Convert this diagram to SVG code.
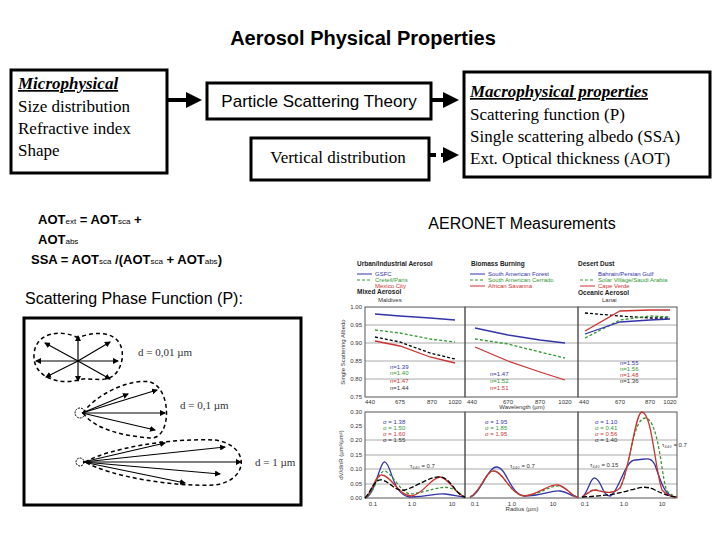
<svg xmlns="http://www.w3.org/2000/svg" width="720" height="540" viewBox="0 0 720 540">
<defs>
<marker id="ah" markerWidth="4" markerHeight="4" refX="3" refY="2" orient="auto"><path d="M0,0 L4,2 L0,4 z" fill="#000"/></marker>
<marker id="sa" markerWidth="6" markerHeight="6" refX="5" refY="3" orient="auto" markerUnits="userSpaceOnUse"><path d="M0,0 L6,3 L0,6 z" fill="#000"/></marker>
<style>
.box{fill:#fff;stroke:#000;stroke-width:3}
.tm{font-family:"Liberation Serif",serif;font-size:17px}
.ar{font-family:"Liberation Sans",Arial,sans-serif}
.f{font-family:"Liberation Sans",Arial,sans-serif;font-size:13px;font-weight:bold}
.lobe{fill:none;stroke:#000;stroke-width:1.5;stroke-dasharray:4 3}
.ray{stroke:#000;stroke-width:1.2;marker-end:url(#sa)}
.dl{font-family:"Liberation Serif",serif;font-size:11px;fill:#333}
.g{stroke:#aaa;stroke-width:1}
.ax{fill:none;stroke:#555;stroke-width:1}
.t{font-family:"Liberation Sans",Arial,sans-serif;font-size:6px;fill:#333}
.h{font-family:"Liberation Sans",Arial,sans-serif;font-size:6.5px;font-weight:bold;fill:#222}
.c{fill:none;stroke-width:1.3}
</style>
</defs>
<rect width="720" height="540" fill="#fff"/>
<text x="363" y="45" text-anchor="middle" class="ar" font-size="20" font-weight="bold">Aerosol Physical Properties</text>

<g id="connectors" stroke="#000" stroke-width="4" fill="none">
<line x1="168" y1="100" x2="198" y2="100" marker-end="url(#ah)"/>
<line x1="431" y1="100" x2="455" y2="100" marker-end="url(#ah)"/>
<line x1="430" y1="155" x2="455" y2="155" stroke-dasharray="6 5" marker-end="url(#ah)"/>
</g>

<g id="micro">
<rect class="box" x="11" y="70" width="156" height="103"/>
<text class="tm" x="18" y="89" font-weight="bold" font-style="italic" text-decoration="underline">Microphysical</text>
<text class="tm" x="18" y="112">Size distribution</text>
<text class="tm" x="18" y="134">Refractive index</text>
<text class="tm" x="18" y="156">Shape</text>
</g>
<g id="pst">
<rect class="box" x="207" y="83" width="224" height="36"/>
<text class="ar" x="319" y="107" font-size="17" text-anchor="middle">Particle Scattering Theory</text>
</g>
<g id="vert">
<rect class="box" x="251" y="138" width="178" height="42"/>
<text class="tm" x="338" y="163" text-anchor="middle">Vertical distribution</text>
</g>
<g id="macro">
<rect class="box" x="464" y="72" width="246" height="105"/>
<text class="tm" x="470" y="97" font-weight="bold" font-style="italic" text-decoration="underline">Macrophysical  properties</text>
<text class="tm" x="470" y="120">Scattering function (P)</text>
<text class="tm" x="470" y="142">Single scattering albedo (SSA)</text>
<text class="tm" x="470" y="164">Ext. Optical thickness (AOT)</text>
</g>

<g id="formulas">
<text class="f" x="38" y="224">AOT<tspan font-size="8" font-weight="normal">ext</tspan> = AOT<tspan font-size="8" font-weight="normal">sca</tspan> +</text>
<text class="f" x="38" y="244">AOT<tspan font-size="8" font-weight="normal">abs</tspan></text>
<text class="f" x="31" y="264">SSA = AOT<tspan font-size="8" font-weight="normal">sca</tspan> /(AOT<tspan font-size="8" font-weight="normal">sca</tspan> + AOT<tspan font-size="8" font-weight="normal">abs</tspan>)</text>
<text class="ar" x="25" y="304" font-size="16">Scattering Phase Function (P):</text>
</g>

<g id="phase">
<rect x="24" y="318" width="277" height="187" fill="#fff" stroke="#000" stroke-width="3"/>
<path class="lobe" d="M78,338 C65,330 35,330 34,355 C33,378 60,385 78,380 C92,375 115,390 122,360 C126,330 95,330 78,338 Z"/>
<g>
<line class="ray" x1="78" y1="361" x2="36" y2="361"/><line class="ray" x1="78" y1="361" x2="118" y2="361"/>
<line class="ray" x1="78" y1="361" x2="78" y2="336"/><line class="ray" x1="78" y1="361" x2="78" y2="381"/>
<line class="ray" x1="78" y1="361" x2="45" y2="343"/><line class="ray" x1="78" y1="361" x2="110" y2="342"/>
<line class="ray" x1="78" y1="361" x2="46" y2="377"/><line class="ray" x1="78" y1="361" x2="110" y2="379"/>
</g>
<text class="dl" x="138" y="356">d = 0,01 µm</text>
<path class="lobe" d="M83,413 C95,395 130,378 150,382 C172,388 172,440 150,438 C125,436 95,430 83,413 Z"/>
<circle cx="80" cy="413" r="5" fill="none" stroke="#000" stroke-dasharray="2 1"/>
<g>
<line class="ray" x1="82" y1="413" x2="165" y2="413"/><line class="ray" x1="82" y1="413" x2="157" y2="390"/>
<line class="ray" x1="82" y1="413" x2="155" y2="430"/><line class="ray" x1="82" y1="413" x2="128" y2="394"/>
</g>
<text class="dl" x="180" y="409">d = 0,1 µm</text>
<path class="lobe" d="M85,462 C110,448 170,438 215,440 C250,445 250,480 215,485 C170,487 110,476 85,462 Z"/>
<circle cx="80" cy="462" r="4" fill="none" stroke="#000" stroke-dasharray="2 1"/>
<g>
<line class="ray" x1="83" y1="462" x2="241" y2="462"/><line class="ray" x1="83" y1="462" x2="225" y2="447"/>
<line class="ray" x1="83" y1="462" x2="220" y2="474"/><line class="ray" x1="83" y1="462" x2="185" y2="483"/>
<line class="ray" x1="83" y1="462" x2="165" y2="443"/>
</g>
<text class="dl" x="255" y="466">d = 1 µm</text>
</g>

<text class="ar" x="522" y="229" font-size="16" text-anchor="middle">AERONET Measurements</text>

<g id="aeronet">
<text class="h" x="357" y="266">Urban/Industrial Aerosol</text>
<text class="h" x="471" y="266">Biomass Burning</text>
<text class="h" x="578" y="266">Desert Dust</text>
<text class="h" x="357" y="294">Mixed Aerosol</text>
<text class="h" x="578" y="295">Oceanic Aerosol</text>
<g class="t">
<text x="375" y="276" fill="#33a">GSFC</text><text x="375" y="282" fill="#393">Creteil/Paris</text><text x="375" y="288" fill="#c33">Mexico City</text><text x="378" y="302">Maldives</text>
<text x="488" y="276" fill="#33a">South American Forest</text><text x="488" y="282" fill="#393">South American Cerrado</text><text x="488" y="288" fill="#c33">African Savanna</text>
<text x="598" y="276" fill="#33a">Bahrain/Persian Gulf</text><text x="598" y="282" fill="#393">Solar Village/Saudi Arabia</text><text x="598" y="288" fill="#c33">Cape Verde</text><text x="602" y="302">Lanai</text>
</g>
<g stroke-width="1">
<line x1="357" y1="274" x2="372" y2="274" stroke="#33a"/><line x1="357" y1="280" x2="372" y2="280" stroke="#393" stroke-dasharray="3 2"/>
<line x1="470" y1="274" x2="485" y2="274" stroke="#33a"/><line x1="470" y1="280" x2="485" y2="280" stroke="#393" stroke-dasharray="3 2"/><line x1="470" y1="286" x2="485" y2="286" stroke="#c33"/>
<line x1="580" y1="280" x2="595" y2="280" stroke="#393" stroke-dasharray="3 2"/><line x1="580" y1="286" x2="595" y2="286" stroke="#c33"/>
</g>
<!-- top SSA plots -->
<g>
<line class="g" x1="365" y1="325" x2="677" y2="325"/><line class="g" x1="365" y1="343" x2="677" y2="343"/>
<line class="g" x1="365" y1="361" x2="677" y2="361"/><line class="g" x1="365" y1="379" x2="677" y2="379"/>
<rect class="ax" x="365" y="307" width="100" height="90"/><rect class="ax" x="465" y="307" width="113" height="90"/><rect class="ax" x="578" y="307" width="99" height="90"/>
</g>
<g class="t" text-anchor="end">
<text x="362" y="309">1.00</text><text x="362" y="327">0.95</text><text x="362" y="345">0.90</text><text x="362" y="363">0.85</text><text x="362" y="381">0.80</text><text x="362" y="399">0.75</text>
</g>
<text class="t" transform="translate(345,352) rotate(-90)" text-anchor="middle">Single Scattering Albedo</text>
<g class="t" text-anchor="middle">
<text x="370" y="404">440</text><text x="400" y="404">675</text><text x="432" y="404">870</text><text x="455" y="404">1020</text>
<text x="472" y="404">440</text><text x="508" y="404">670</text><text x="540" y="404">870</text><text x="565" y="404">1020</text>
<text x="584" y="404">440</text><text x="620" y="404">670</text><text x="650" y="404">870</text><text x="670" y="404">1020</text>
<text x="522" y="409">Wavelength (µm)</text>
</g>
<polyline class="c" stroke="#33a" points="375,314 400,316 430,318 455,320"/>
<polyline class="c" stroke="#393" stroke-dasharray="3 2" points="375,330 400,333 430,339 455,342"/>
<polyline class="c" stroke="#000" stroke-dasharray="3 2" points="375,337 400,342 430,353 455,359"/>
<polyline class="c" stroke="#c33" points="375,341 400,346 430,357 455,363"/>
<polyline class="c" stroke="#33a" points="475,328 508,335 540,340 565,343"/>
<polyline class="c" stroke="#393" stroke-dasharray="3 2" points="475,339 508,344 540,352 565,358"/>
<polyline class="c" stroke="#c33" points="475,347 508,361 540,372 565,380"/>
<polyline class="c" stroke="#000" stroke-dasharray="3 2" points="585,313 620,316 650,318 670,318"/>
<polyline class="c" stroke="#c33" points="585,331 620,311 650,310 670,310"/>
<polyline class="c" stroke="#393" stroke-dasharray="3 2" points="585,338 620,320 650,316 670,317"/>
<polyline class="c" stroke="#33a" points="585,334 620,322 650,320 670,319"/>
<g class="t"><text x="390" y="369" fill="#33a">n=1.39</text><text x="390" y="375" fill="#393">n=1.40</text><text x="390" y="383" fill="#c33">n=1.47</text><text x="390" y="390">n=1.44</text>
<text x="490" y="376" fill="#33a">n=1.47</text><text x="490" y="383" fill="#393">n=1.52</text><text x="490" y="390" fill="#c33">n=1.51</text>
<text x="620" y="365" fill="#33a">n=1.55</text><text x="620" y="371" fill="#393">n=1.56</text><text x="620" y="377" fill="#c33">n=1.48</text><text x="620" y="383">n=1.36</text></g>
<!-- bottom size distribution plots -->
<g>
<line class="g" x1="365" y1="440" x2="677" y2="440"/><line class="g" x1="365" y1="455" x2="677" y2="455"/>
<line class="g" x1="365" y1="469" x2="677" y2="469"/><line class="g" x1="365" y1="484" x2="677" y2="484"/>
<rect class="ax" x="365" y="412" width="100" height="86"/><rect class="ax" x="465" y="412" width="113" height="86"/><rect class="ax" x="578" y="412" width="99" height="86"/>
</g>
<g class="t" text-anchor="end">
<text x="362" y="414">0.30</text><text x="362" y="428">0.25</text><text x="362" y="442">0.20</text><text x="362" y="457">0.15</text><text x="362" y="471">0.10</text><text x="362" y="486">0.05</text><text x="362" y="500">0.00</text>
</g>
<text class="t" transform="translate(343,455) rotate(-90)" text-anchor="middle">dV/dlnR (µm³/µm²)</text>
<g class="t" text-anchor="middle">
<text x="373" y="506">0.1</text><text x="412" y="506">1.0</text><text x="452" y="506">10</text>
<text x="475" y="506">0.1</text><text x="512" y="506">1.0</text><text x="553" y="506">10</text>
<text x="585" y="506">0.1</text><text x="624" y="506">1.0</text><text x="662" y="506">10</text>
<text x="522" y="511">Radius (µm)</text>
</g>
<g class="t"><text x="383" y="424" fill="#33a">σ = 1.38</text><text x="383" y="430" fill="#393">σ = 1.50</text><text x="383" y="436" fill="#c33">σ = 1.60</text><text x="383" y="442">σ = 1.55</text>
<text x="485" y="424" fill="#33a">σ = 1.95</text><text x="485" y="430" fill="#393">σ = 1.85</text><text x="485" y="436" fill="#c33">σ = 1.95</text>
<text x="595" y="424" fill="#33a">σ = 1.10</text><text x="595" y="430" fill="#393">σ = 0.41</text><text x="595" y="436" fill="#c33">σ = 0.56</text><text x="595" y="442">σ = 1.40</text>
<text x="410" y="468">τ₄₄₀ = 0.7</text><text x="510" y="468">τ₄₄₀ = 0.7</text><text x="590" y="467">τ₄₄₀ = 0.15</text><text x="662" y="447">τ₄₄₀ = 0.7</text></g>
<path class="c" stroke="#33a" d="M365,498 C375,496 380,460 385,462 C392,465 392,495 410,497 C430,497 435,493 445,494 C455,495 460,497 465,497"/>
<path class="c" stroke="#393" stroke-dasharray="3 2" d="M365,498 C375,494 378,470 385,471 C392,473 400,492 410,494 C430,492 440,485 450,488 C458,490 462,496 465,497"/>
<path class="c" stroke="#c33" d="M365,498 C372,494 375,474 382,475 C392,476 398,496 412,496 C425,493 430,478 440,477 C450,478 455,495 465,497"/>
<path class="c" stroke="#000" stroke-dasharray="5 2" d="M365,498 C372,490 375,478 382,480 C392,483 395,492 405,490 C420,485 430,476 440,477 C452,478 455,495 465,497"/>
<path class="c" stroke="#33a" d="M470,497 C480,495 488,466 497,467 C507,468 510,495 525,496 C545,496 550,490 560,491 C568,492 572,497 578,497"/>
<path class="c" stroke="#393" stroke-dasharray="3 2" d="M470,497 C480,493 486,470 494,471 C504,472 510,495 525,496 C542,494 550,485 560,486 C568,488 572,497 578,497"/>
<path class="c" stroke="#c33" d="M470,497 C480,493 486,470 494,471 C504,472 510,495 525,496 C542,493 548,484 558,485 C567,487 572,497 578,497"/>
<path class="c" stroke="#33a" d="M582,497 C588,494 590,477 595,478 C602,480 602,496 610,496 C618,494 625,460 635,460 C645,460 650,455 655,465 C662,485 665,497 677,497"/>
<path class="c" stroke="#393" stroke-dasharray="3 2" d="M582,497 C588,494 590,490 595,490 C605,492 612,495 620,488 C630,470 632,420 645,418 C660,418 662,490 668,492 C672,495 675,497 677,497"/>
<path class="c" stroke="#c33" d="M582,497 C588,494 590,490 595,490 C605,492 612,495 620,488 C630,470 635,412 642,412 C652,413 655,470 662,490 C668,497 674,497 677,497"/>
<path class="c" stroke="#000" stroke-dasharray="5 2" d="M582,497 C600,496 615,495 630,490 C640,488 645,485 655,490 C665,495 672,497 677,497"/>
</g>
</svg>
